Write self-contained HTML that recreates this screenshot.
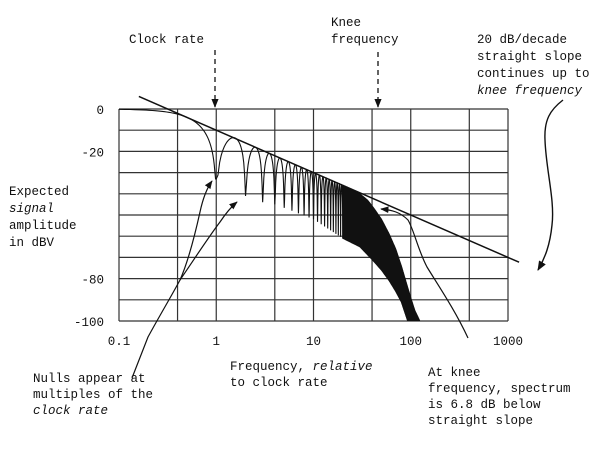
<!DOCTYPE html>
<html><head><meta charset="utf-8"><style>
html,body{margin:0;padding:0;background:#fff;}
svg{display:block;}
text{font-family:"Liberation Mono",monospace;font-size:12.5px;fill:#111;}
</style></head><body>
<svg id="chart" width="601" height="453" viewBox="0 0 601 453">
<defs>
<clipPath id="plotclip"><rect x="119" y="100" width="389" height="221"/></clipPath>
<marker id="ah" viewBox="0 0 10 10" refX="9" refY="5" markerWidth="7" markerHeight="7" orient="auto-start-reverse"><path d="M0,1 L10,5 L0,9 z" fill="#111"/></marker>
</defs>
<g id="grid"></g>
<g id="ticks"></g>
<g id="series" clip-path="url(#plotclip)"></g>
<g id="slope"></g>

<text x="9" y="195">Expected</text>
<text x="9" y="212" font-style="italic">signal</text>
<text x="9" y="229">amplitude</text>
<text x="9" y="246">in dBV</text>

<text x="230" y="370">Frequency, <tspan font-style="italic">relative</tspan></text>
<text x="230" y="386">to clock rate</text>

<text x="129" y="43">Clock rate</text>
<line x1="215" y1="50" x2="215" y2="107" stroke="#111" stroke-width="1.3" stroke-dasharray="5,4" marker-end="url(#ah)"/>
<text x="331" y="26">Knee</text>
<text x="331" y="43">frequency</text>
<line x1="378" y1="52" x2="378" y2="107" stroke="#111" stroke-width="1.3" stroke-dasharray="5,4" marker-end="url(#ah)"/>

<text x="477" y="43">20 dB/decade</text>
<text x="477" y="60">straight slope</text>
<text x="477" y="77">continues up to</text>
<text x="477" y="94" font-style="italic">knee frequency</text>
<path d="M563,100 C550,110 544,120 545,140 C546,170 555,200 552,225 C550,245 545,258 538,270" fill="none" stroke="#111" stroke-width="1.4" marker-end="url(#ah)"/>

<text x="33" y="382">Nulls appear at</text>
<text x="33" y="398">multiples of the</text>
<text x="33" y="414" font-style="italic">clock rate</text>
<path d="M132,378 L148,337 C160,315 172,295 180,280 C188,262 196,230 200,212 C203,198 207,188 212,181" fill="none" stroke="#111" stroke-width="1.2" marker-end="url(#ah)"/>
<path d="M180,280 C195,258 210,235 220,222 C226,213 231,207 237,202" fill="none" stroke="#111" stroke-width="1.2" marker-end="url(#ah)"/>

<text x="428" y="376">At knee</text>
<text x="428" y="392">frequency, spectrum</text>
<text x="428" y="408">is 6.8 dB below</text>
<text x="428" y="424">straight slope</text>
<path d="M468,338 C455,310 438,285 427,267 C418,250 414,230 408,220 C400,212 392,210 381,209" fill="none" stroke="#111" stroke-width="1.2" marker-end="url(#ah)"/>
</svg>
<script>
// ---- data ----
const xTicks = [0.1, 1, 10, 100, 1000];
const xTickLabels = ["0.1", "1", "10", "100", "1000"];
const xGridExtra = [0.4, 4, 40, 400];
const yGrid = [0, -10, -20, -30, -40, -50, -60, -70, -80, -90, -100];
const yTicks = [0, -20, -80, -100];
const yTickLabels = ["0", "-20", "-80", "-100"];
const upperF = [1.5, 2.5, 5, 10, 20, 30, 36, 42, 50, 60, 70, 80, 90, 100, 110, 124];
const upperDb = [-13.5, -18, -24, -30, -36, -40, -43, -47, -52, -59, -66, -74, -82, -89, -95, -100];
const lowerF = [1, 2, 3, 4, 6, 10, 20, 30, 40, 50, 60, 70, 80, 93];
const lowerDb = [-33, -41, -44, -45, -48, -52, -61, -65, -71, -76, -81, -86, -91, -100];
const harmonicCount = 130;
const denseStartF = 20;
const slopeF = [0.16, 1300];
const slopeRefDb = -10; // dB at clock rate
const slopePerDecade = -20;

// ---- scales ----
const X0 = 119, DEC = 97.25, Y0 = 109, DBPX = 2.12;
function x(f){ return X0 + (Math.log10(f) + 1) * DEC; }
function y(db){ return Y0 - db * DBPX; }
function interpLog(fs, vs, f){
  if (f <= fs[0]) return vs[0];
  if (f >= fs[fs.length-1]) return vs[vs.length-1] - (Math.log10(f)-Math.log10(fs[fs.length-1]))*300;
  for (let i=0;i<fs.length-1;i++){
    if (f>=fs[i] && f<=fs[i+1]){
      const t=(Math.log10(f)-Math.log10(fs[i]))/(Math.log10(fs[i+1])-Math.log10(fs[i]));
      return vs[i]+t*(vs[i+1]-vs[i]);
    }
  }
}
const NS = "http://www.w3.org/2000/svg";
function mk(tag, attrs, parent){
  const el = document.createElementNS(NS, tag);
  for (const k in attrs) el.setAttribute(k, attrs[k]);
  parent.appendChild(el); return el;
}
const gridG = document.getElementById('grid');
const ticksG = document.getElementById('ticks');
const seriesG = document.getElementById('series');
const slopeG = document.getElementById('slope');

// grid
yGrid.forEach(v=>{
  const l = mk('line',{x1:X0,x2:x(1000),y1:y(v),y2:y(v),stroke:'#333','stroke-width':1.2},gridG);
  
  
});
xTicks.concat(xGridExtra).forEach(f=>{
  const l = mk('line',{x1:x(f),x2:x(f),y1:y(0),y2:y(-100),stroke:'#333','stroke-width':1.2},gridG);
  
  
});
xTicks.forEach((f,i)=>{
  const t = mk('text',{x:x(f),y:345,'text-anchor':'middle'},ticksG);
  t.textContent = xTickLabels[i];
  
  
});
yTicks.forEach((v,i)=>{
  const t = mk('text',{x:104,y:y(v)+5,'text-anchor':'end'},ticksG);
  t.textContent = yTickLabels[i];
  
  
});

// spectrum
let d = '';
const floor1 = interpLog(lowerF, lowerDb, 1);
for (let i=0;i<=60;i++){
  const f = 0.1 + i*(0.999-0.1)/60;
  const s = Math.abs(Math.sin(Math.PI*f)/(Math.PI*f));
  const db = Math.max(floor1, 20*Math.log10(s));
  d += (i===0?'M':'L') + x(f).toFixed(2)+','+y(db).toFixed(2);
}
for (let n=1;n<harmonicCount;n++){
  const peak = interpLog(upperF, upperDb, n+0.5);
  const steps = n < 25 ? 24 : 2;
  for (let k=0;k<=steps;k++){
    const t = k/steps;
    const f = n + t;
    const low = interpLog(lowerF, lowerDb, f);
    const sv = Math.abs(Math.sin(Math.PI*t));
    let db = sv < 1e-6 ? low : Math.max(low, peak + 20*Math.log10(sv));
    if (steps===2) db = (k===1) ? peak : low;
    d += 'L' + x(f).toFixed(2)+','+y(Math.max(db,-110)).toFixed(2);
  }
}
const sp = mk('path',{d:d,fill:'none',stroke:'#111','stroke-width':1.1},seriesG);



// dense band fill (harmonics too close to resolve)
const topPts = [], botPts = [];
for (let i=0;i<=100;i++){
  const f = denseStartF * Math.pow(harmonicCount/denseStartF, i/100);
  topPts.push(x(f).toFixed(2)+','+y(Math.max(interpLog(upperF, upperDb, f),-110)).toFixed(2));
  botPts.push(x(f).toFixed(2)+','+y(Math.max(interpLog(lowerF, lowerDb, f),-110)).toFixed(2));
}
const band = mk('polygon',{points: topPts.concat(botPts.reverse()).join(' '), fill:'#111', stroke:'#111', 'stroke-width':1, 'stroke-linejoin':'round'},seriesG);



// slope line
const sdb = f => slopeRefDb + slopePerDecade*Math.log10(f);
const sl = mk('line',{x1:x(slopeF[0]),y1:y(sdb(slopeF[0])),x2:x(slopeF[1]),y2:y(sdb(slopeF[1])),stroke:'#111','stroke-width':1.5},slopeG);


</script>
</body></html>
